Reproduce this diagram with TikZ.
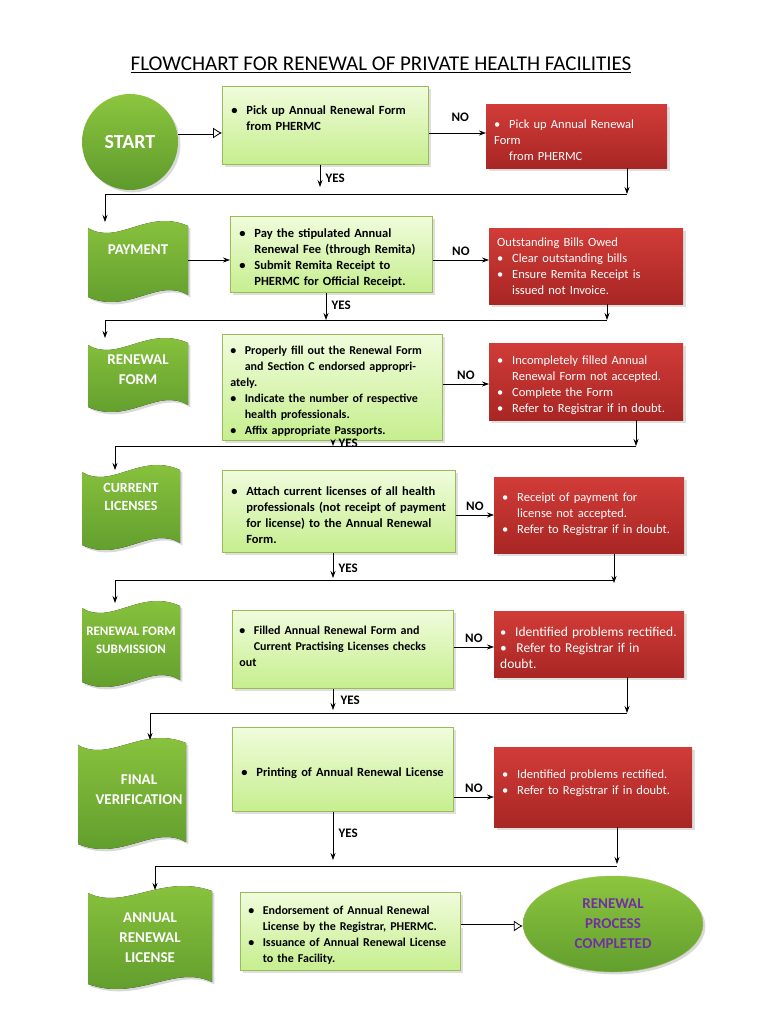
\documentclass[tikz,border=0pt]{standalone}
\usepackage{fontspec}
\setmainfont{Carlito}
\usetikzlibrary{arrows.meta,shapes.geometric,shadows}
\definecolor{gbord}{HTML}{9BBB59}
\definecolor{gtop}{HTML}{F0FCDC}
\definecolor{gbot}{HTML}{C6EE8E}
\definecolor{rtop}{HTML}{D13C38}
\definecolor{rbot}{HTML}{A82624}
\definecolor{stop}{HTML}{8CC63F}
\definecolor{sbot}{HTML}{5E9A2C}
\definecolor{purp}{HTML}{7030A0}
\newcommand\bit[1]{\par\noindent\makebox[1.2em][l]{\textbullet}#1}
\newcommand\cnt[1]{\par\noindent\hspace*{1.2em}#1}
\newcommand\wavy[4]{% x0 y0 x1 y1
 \fill[top color=stop,bottom color=sbot,drop shadow={opacity=0.3}]
 (#1,#2+10) .. controls ({#1+(#3-#1)*0.3},#2+28) and ({#1+(#3-#1)*0.6},#2-10) .. (#3,#2+8)
 -- (#3,#4-10) .. controls ({#3-(#3-#1)*0.3},#4-28) and ({#3-(#3-#1)*0.6},#4+10) .. (#1,#4-8) -- cycle;}
\tikzset{
 gbox/.style={draw=gbord,line width=0.8pt,top color=gtop,bottom color=gbot,drop shadow={opacity=0.25},
   font=\fontsize{12.5}{16}\selectfont\bfseries,align=left,inner sep=8pt,anchor=north west},
 rbox/.style={top color=rtop,bottom color=rbot,drop shadow={opacity=0.25},text=white,
   font=\fontsize{12.5}{16}\selectfont,align=left,inner sep=8pt,anchor=north west},
 slab/.style={text=white,font=\fontsize{15}{20}\selectfont\bfseries,align=center},
 arr/.style={-{Stealth[length=7pt,width=5pt]},line width=0.7pt},
 lab/.style={font=\fontsize{13}{14}\selectfont\bfseries},
 dbl/.style={double=white,double distance=3pt,line width=0.8pt,-{Latex[open,length=9pt,width=11pt]}}
}
\begin{document}
\begin{tikzpicture}[x=1pt,y=-1pt]
\useasboundingbox (0,0) rectangle (768,1024);
\node[font=\fontsize{21}{24}\selectfont] (title) at (381,65) {\underline{FLOWCHART FOR RENEWAL OF PRIVATE HEALTH FACILITIES}};

% Row 1
\node[circle,minimum size=96pt,top color=stop,bottom color=sbot,drop shadow={opacity=0.3},slab,font=\fontsize{20}{22}\selectfont\bfseries] (start) at (130,142) {START};
\node[gbox,minimum width=206pt,minimum height=76pt,text width=188pt,inner ysep=12pt] (g1) at (222,86) {\bit{Pick up Annual Renewal Form}\cnt{from PHERMC}\vspace{22pt}};
\node[rbox,minimum width=181pt,minimum height=64pt,text width=165pt] (r1) at (486,104) {\bit{Pick up Annual Renewal Form}\cnt{from PHERMC}};
\draw[dbl] (start.east|-0,133) -- (g1.west|-0,133);
\draw[arr] (g1.east|-0,133) -- (r1.west|-0,133) node[lab,pos=0.55,above=8pt] {NO};
\coordinate (y1) at (320,187); \coordinate (rd1) at (627,194); \coordinate (l1) at (105,194);
\draw[arr] (g1.south-|y1) -- (y1) node[lab,right=2pt,pos=0.6] {YES};
\draw[arr] (r1.south-|rd1) -- (rd1);

% Row 2
\wavy{88}{218}{188}{305}
\node[slab] (s2) at (138,250) {PAYMENT};
\draw[arr] (rd1) -- (l1) -- (105,222);
\node[gbox,minimum width=202pt,minimum height=76pt,text width=184pt,inner ysep=5pt] (g2) at (230,216) {\bit{Pay the stipulated Annual}\cnt{Renewal Fee (through Remita)}\bit{Submit Remita Receipt to}\cnt{PHERMC for Official Receipt.}};
\node[rbox,minimum width=194pt,minimum height=76pt,text width=178pt,inner ysep=4pt] (r2) at (489,228) {Outstanding Bills Owed\bit{Clear outstanding bills}\bit{Ensure Remita Receipt is}\cnt{issued not Invoice.}};
\draw[arr] (188,260) -- (g2.west|-0,260);
\draw[arr] (g2.east|-0,260) -- (r2.west|-0,260) node[lab,pos=0.5,above=1pt] {NO};
\coordinate (y2) at (326,320); \coordinate (rd2) at (607,320);
\draw[arr] (g2.south-|y2) -- (y2) node[lab,right=2pt,pos=0.45] {YES};
\draw[arr] (r2.south-|rd2) -- (rd2);

% Row 3
\wavy{88}{335}{188}{415}
\node[slab] (s3) at (138,370) {RENEWAL\\FORM};
\draw[arr] (rd2) -- (105,320) -- (105,338);
\node[gbox,minimum width=220pt,minimum height=88pt,text width=204pt,inner ysep=4pt,inner xsep=6pt,font=\fontsize{12}{16}\selectfont\bfseries] (g3) at (222,334) {\bit{Properly fill out the Renewal Form}\cnt{and Section C endorsed appropriately.}\bit{Indicate the number of respective}\cnt{health professionals.}\bit{Affix appropriate Passports.}};
\node[rbox,minimum width=194pt,minimum height=77pt,text width=178pt,inner ysep=5pt] (r3) at (489,343) {\bit{Incompletely filled Annual}\cnt{Renewal Form not accepted.}\bit{Complete the Form}\bit{Refer to Registrar if in doubt.}};
\draw[arr] (g3.east|-0,384) -- (r3.west|-0,384) node[lab,pos=0.5,above=1pt] {NO};
\coordinate (y3) at (333,446); \coordinate (rd3) at (636,446);
\draw[arr] (g3.south-|y3) -- (y3) node[lab,right=2pt,pos=0.5] {YES};
\draw[arr] (r3.south-|rd3) -- (rd3);

% Row 4
\wavy{82}{462}{180}{553}
\node[slab,font=\fontsize{14}{18}\selectfont\bfseries] (s4) at (131,497) {CURRENT\\LICENSES};
\draw[arr] (rd3) -- (115,446) -- (115,470);
\node[gbox,minimum width=233pt,minimum height=82pt,text width=215pt] (g4) at (222,470) {\bit{Attach current licenses of all health}\cnt{professionals (not receipt of payment}\cnt{for license) to the Annual Renewal}\cnt{Form.}};
\node[rbox,minimum width=190pt,minimum height=75pt,text width=174pt] (r4) at (494,477) {\bit{Receipt of payment for}\cnt{license not accepted.}\bit{Refer to Registrar if in doubt.}\vspace{10pt}};
\draw[arr] (g4.east|-0,515) -- (r4.west|-0,515) node[lab,pos=0.5,above=1pt] {NO};
\coordinate (y4) at (333,578); \coordinate (rd4) at (614,583);
\draw[arr] (g4.south-|y4) -- (y4) node[lab,right=2pt,pos=0.6] {YES};
\draw[arr] (r4.south-|rd4) -- (rd4);

% Row 5
\wavy{82}{598}{180}{690}
\node[slab,font=\fontsize{13}{18}\selectfont\bfseries] (s5) at (131,640) {RENEWAL FORM\\SUBMISSION};
\draw[arr] (614,580) -- (115,580) -- (115,603);
\node[gbox,minimum width=221pt,minimum height=70pt,text width=207pt,inner xsep=6pt,font=\fontsize{12}{16}\selectfont\bfseries] (g5) at (232,610) {\bit{Filled Annual Renewal Form and}\cnt{Current Practising Licenses checks out}\vspace{14pt}};
\node[rbox,minimum width=190pt,minimum height=66pt,text width=178pt,inner xsep=6pt,inner ysep=6pt] (r5) at (494,611) {\bit{\fontsize{13.5}{17}\selectfont Identified problems rectified.}\bit{Refer to Registrar if in doubt.}};
\draw[arr] (g5.east|-0,647) -- (r5.west|-0,647) node[lab,pos=0.5,above=1pt] {NO};
\coordinate (y5) at (333,710); \coordinate (rd5) at (627,713);
\draw[arr] (g5.south-|y5) -- (y5) node[lab,right=4pt,pos=0.55] {YES};
\draw[arr] (r5.south-|rd5) -- (rd5);

% Row 6
\wavy{78}{735}{186}{852}
\node[slab] (s6) at (139,790) {FINAL\\VERIFICATION};
\draw[arr] (rd5) -- (150,713) -- (150,740);
\node[gbox,minimum width=221pt,minimum height=84pt,text width=203pt] (g6) at (232,727) {\bit{Printing of Annual Renewal License}};
\node[rbox,minimum width=198pt,minimum height=80pt,text width=182pt] (r6) at (494,747) {\bit{Identified problems rectified.}\bit{Refer to Registrar if in doubt.}\vspace{16pt}};
\draw[arr] (g6.east|-0,797) -- (r6.west|-0,797) node[lab,pos=0.5,above=1pt] {NO};
\coordinate (y6) at (333,860); \coordinate (rd6) at (617,864);
\draw[arr] (g6.south-|y6) -- (y6) node[lab,right=2pt,pos=0.45] {YES};
\draw[arr] (r6.south-|rd6) -- (rd6);

% Row 7
\wavy{88}{883}{212}{992}
\node[slab] (s7) at (150,938) {ANNUAL\\RENEWAL\\LICENSE};
\draw[arr] (617,866) -- (155,866) -- (155,890);
\node[gbox,minimum width=220pt,minimum height=78pt,text width=204pt,inner xsep=6pt,inner ysep=4pt,font=\fontsize{12}{16}\selectfont\bfseries] (g7) at (240,892) {\bit{Endorsement of Annual Renewal}\cnt{License by the Registrar, PHERMC.}\bit{Issuance of Annual Renewal License}\cnt{to the Facility.}};
\node[ellipse,minimum width=180pt,minimum height=96pt,top color=stop,bottom color=sbot!90!stop,draw=gbord,drop shadow={opacity=0.3},text=purp,font=\fontsize{15}{20}\selectfont\bfseries,align=center] (end) at (613,924) {RENEWAL\\PROCESS\\COMPLETED};
\draw[dbl] (g7.east|-0,926) -- (end.west|-0,926);
\end{tikzpicture}
\end{document}
